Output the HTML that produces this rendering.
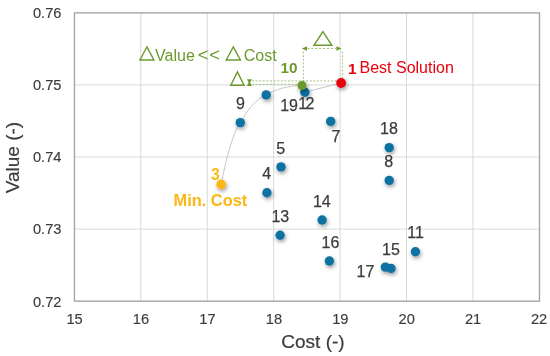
<!DOCTYPE html>
<html><head><meta charset="utf-8"><title>Value vs Cost</title>
<style>
html,body{margin:0;padding:0;background:#fff;}
body{width:550px;height:356px;overflow:hidden;}
svg{display:block;}
text{font-family:"Liberation Sans",Arial,sans-serif;}
.ax{font-size:14.67px;fill:#3c3c3c;stroke:#3c3c3c;stroke-width:0.15px;}
.lb{font-size:16px;fill:#3c3c3c;stroke:#3c3c3c;stroke-width:0.25px;}
.ttl{font-size:19px;fill:#3c3c3c;stroke:#3c3c3c;stroke-width:0.2px;}
.g{stroke:#d9d9d9;stroke-width:1;}
.grn{fill:#6a9a2e;}
</style></head><body>
<svg width="550" height="356" viewBox="0 0 550 356">
<defs>
<filter id="sh" x="-50%" y="-50%" width="220%" height="220%">
<feGaussianBlur in="SourceAlpha" stdDeviation="2"/>
<feOffset dx="0.8" dy="1.6"/>
<feComponentTransfer><feFuncA type="linear" slope="0.42"/></feComponentTransfer>
<feMerge><feMergeNode/><feMergeNode in="SourceGraphic"/></feMerge>
</filter>
</defs>
<rect width="550" height="356" fill="#fff"/>
<!-- gridlines -->
<g class="g">
<line x1="140.8" y1="13" x2="140.8" y2="301"/>
<line x1="207.25" y1="13" x2="207.25" y2="301"/>
<line x1="273.7" y1="13" x2="273.7" y2="301"/>
<line x1="340.1" y1="13" x2="340.1" y2="301"/>
<line x1="406.5" y1="13" x2="406.5" y2="301"/>
<line x1="472.9" y1="13" x2="472.9" y2="301"/>
<line x1="74" y1="84.9" x2="540" y2="84.9"/>
<line x1="74" y1="157" x2="540" y2="157"/>
<line x1="74" y1="229.1" x2="540" y2="229.1"/>
</g>
<rect x="74.45" y="12.9" width="465.05" height="288.3" fill="none" stroke="#a6a6a6" stroke-width="1.4"/>
<!-- y axis labels -->
<g class="ax" text-anchor="end">
<text x="61.5" y="18.1">0.76</text>
<text x="61.5" y="90.2">0.75</text>
<text x="61.5" y="162.3">0.74</text>
<text x="61.5" y="234.4">0.73</text>
<text x="61.5" y="306.5">0.72</text>
</g>
<!-- x axis labels -->
<g class="ax" text-anchor="middle">
<text x="74.6" y="324.3">15</text>
<text x="141.0" y="324.3">16</text>
<text x="207.45" y="324.3">17</text>
<text x="273.9" y="324.3">18</text>
<text x="340.3" y="324.3">19</text>
<text x="406.7" y="324.3">20</text>
<text x="473.1" y="324.3">21</text>
<text x="539.1" y="324.3">22</text>
</g>
<text class="ttl" x="313" y="347.6" text-anchor="middle">Cost (-)</text>
<text class="ttl" style="font-size:19px" transform="translate(19.1,157.6) rotate(-90)" text-anchor="middle">Value (-)</text>
<!-- curve -->
<path d="M221.1 184.4 C226 160,232 135,240.3 122.6 C248 109,256 99,266.2 94.9 C274 90,288 85.5,301.9 85.4 L304.9 92.2 L341.1 83" fill="none" stroke="#bcbcbc" stroke-width="0.85"/>
<!-- green annotations -->
<g fill="none" stroke="#7faa48" stroke-width="0.7" stroke-dasharray="2 1.6">
<line x1="303.4" y1="51.5" x2="303.4" y2="82"/>
<line x1="342.4" y1="51.5" x2="342.4" y2="79"/>
<line x1="307.5" y1="48.5" x2="336" y2="48.5" stroke-dasharray="2 1.9" stroke-width="0.75"/>
<line x1="252" y1="80.9" x2="341" y2="80.9"/>
<line x1="252" y1="84.3" x2="300" y2="84.3"/>
</g>
<g class="grn">
<path d="M301.8 48.5l5.2-2.3v4.6z"/><path d="M341.6 48.5l-5.2-2.3v4.6z"/>
<path d="M246.9 79.3h5l-1.7 3.3 1.7 3.4h-5l1.7-3.4z"/>
</g>
<g fill="none" stroke="#6a9a2e" stroke-width="1.4" stroke-linejoin="miter">
<path d="M322.9 31.6L331.8 45.3H314z"/>
<path d="M146.9 46.9L153.9 60H139.9z"/>
<path d="M233.3 46.9L240.4 60H226.2z"/>
<path d="M237.4 71.9L244 85.2H230.8z"/>
</g>
<text x="155.1" y="60.5" class="grn" style="font-size:16px">Value</text>
<text x="197.8" y="61.3" class="grn" style="font-size:18.5px;letter-spacing:0.6px">&lt;&lt;</text>
<text x="243.7" y="60.5" class="grn" style="font-size:16px">Cost</text>
<text x="280.5" y="73.4" class="grn" style="font-size:15.3px;font-weight:bold">10</text>
<!-- dots -->
<g fill="#0f71a2" filter="url(#sh)">
<circle cx="240.3" cy="122.6" r="4.7"/>
<circle cx="266.2" cy="94.9" r="4.7"/>
<circle cx="304.9" cy="92.2" r="4.7"/>
<circle cx="330.7" cy="121.4" r="4.7"/>
<circle cx="389.2" cy="147.6" r="4.7"/>
<circle cx="389.2" cy="180.4" r="4.7"/>
<circle cx="281" cy="166.9" r="4.7"/>
<circle cx="266.9" cy="192.7" r="4.7"/>
<circle cx="322.1" cy="220" r="4.7"/>
<circle cx="280.1" cy="235.2" r="4.7"/>
<circle cx="329.4" cy="261" r="4.7"/>
<circle cx="415.4" cy="251.8" r="4.7"/>
<circle cx="385.4" cy="267.1" r="4.7"/>
<circle cx="391" cy="268.4" r="4.7"/>
</g>
<g filter="url(#sh)">
<circle cx="302" cy="85.5" r="4.5" fill="#6a9a2e"/>
<circle cx="341.1" cy="83" r="4.9" fill="#e8000d"/>
<circle cx="221.1" cy="184.4" r="4.8" fill="#fbb714"/>
</g>
<!-- labels -->
<g class="lb" transform="translate(0,0.7)">
<text x="236" y="108.4">9</text>
<text x="280.2" y="110.5">19</text>
<text x="298.3" y="108.6" style="letter-spacing:-1.6px">12</text>
<text x="331.6" y="141.8">7</text>
<text x="380" y="133.1">18</text>
<text x="384.2" y="166.6">8</text>
<text x="276.2" y="152.9">5</text>
<text x="262.2" y="178.7">4</text>
<text x="312.9" y="206.6">14</text>
<text x="271.4" y="221.2">13</text>
<text x="321.5" y="247.3">16</text>
<text x="407.3" y="237.8">11</text>
<text x="382" y="254.2">15</text>
<text x="356.6" y="276.4">17</text>
</g>
<text x="211" y="179.6" style="font-size:15.7px;font-weight:bold;fill:#fbb714">3</text>
<text x="173.5" y="205.5" style="font-size:16.4px;font-weight:bold;fill:#fbb714">Min. Cost</text>
<text x="348" y="74" style="font-size:15.5px;font-weight:bold;fill:#e8000d">1</text>
<text x="359.5" y="73.4" style="font-size:16px;fill:#e8000d">Best Solution</text>
</svg>
</body></html>
